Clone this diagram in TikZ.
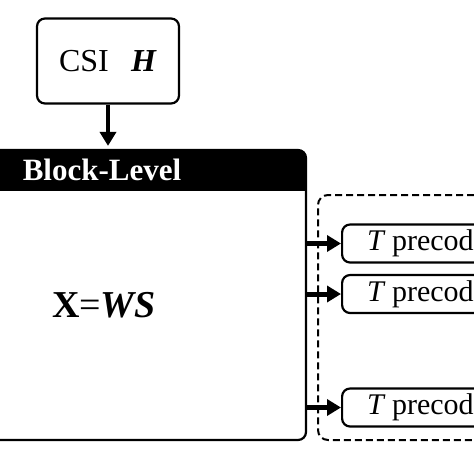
\documentclass[tikz,border=0pt]{standalone}
\usepackage{fontspec}
\setmainfont{Liberation Serif}
\usetikzlibrary{arrows.meta, positioning}

\tikzset{
  roundbox/.style={draw, line width=2.2pt, rounded corners=8pt},
  precbox/.style={roundbox, minimum height=38pt, text width=200pt, align=left,
    inner xsep=25pt, inner ysep=0pt, anchor=west, font=\fontsize{30}{34}\selectfont},
  fatarrow/.style={-{Triangle[length=14pt,width=16pt]}, line width=5pt},
}

\begin{document}
\begin{tikzpicture}[x=1pt, y=-1pt]
    \useasboundingbox (0,0) rectangle (474,474);
    \clip (0,0) rectangle (474,474);

    % channel state information
    \node[roundbox, minimum width=142pt, minimum height=85pt,
      font=\fontsize{32}{36}\selectfont] (csi) at (108,61)
      {CSI\hspace{0.7em}\textbf{\textit{H}}\hspace{11pt}};

    % block-level box with black header
    \node[roundbox, minimum width=340pt, minimum height=290pt] (block) at (136,295) {};
    \begin{scope}
        \clip (-40,140) rectangle (320,190);
        \fill[rounded corners=8pt] (-34,150) rectangle (306,440);
    \end{scope}
    \node[text=white, font=\bfseries\fontsize{31}{36}\selectfont] (blocklabel) at (102,170) {Block-Level};
    \node[font=\fontsize{38}{44}\selectfont] (formula) at (104,305) {\textbf{X}=\textbf{\textit{WS}}};

    % dashed group of precoders
    \node[draw, dash pattern=on 7pt off 4pt, line width=2pt, rounded corners=10pt,
      minimum width=210pt, minimum height=245pt] (group) at (423,317.5) {};

    \node[precbox] (prec1) at (341,243.5) {\textit{T}\hspace{6.5pt}precoder};
    \node[precbox] (prec2) at (341,294) {\textit{T}\hspace{6.5pt}precoder};
    \node[precbox] (prec3) at (341,407.5) {\textit{T}\hspace{6.5pt}precoder};

    \draw[fatarrow, line width=4pt, shorten >=3pt] (csi.south) -- (csi.south |- block.north);
    \draw[fatarrow] (block.east |- prec1) -- (prec1.west);
    \draw[fatarrow] (block.east |- prec2) -- (prec2.west);
    \draw[fatarrow] (block.east |- prec3) -- (prec3.west);
\end{tikzpicture}
\end{document}
